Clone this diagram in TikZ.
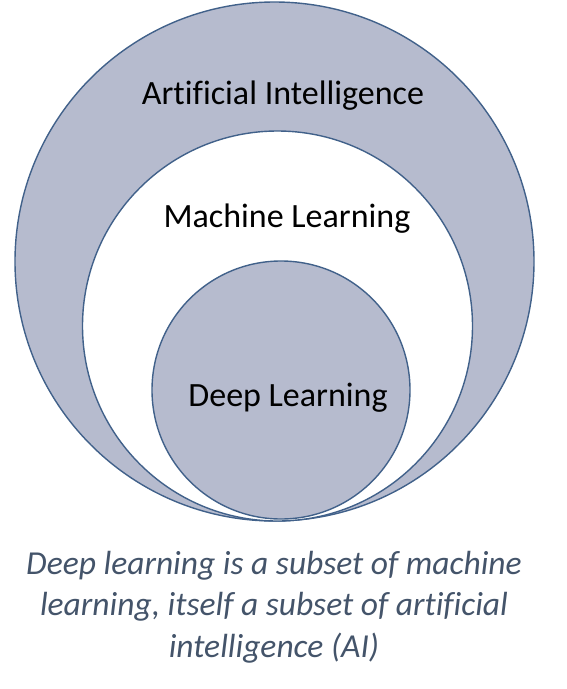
\documentclass[tikz,border=0pt]{standalone}
\usepackage{fontspec}
\setmainfont{Carlito}[Ligatures=CommonOff]
\usepackage{tikz}
\definecolor{setfill}{HTML}{B6BBCE}
\definecolor{setline}{HTML}{41618A}
\definecolor{captext}{HTML}{44546A}
\tikzset{
  setcircle/.style={draw=setline, line width=1.4pt},
  setlabel/.style={font=\fontsize{34}{40}\selectfont, text=black, inner sep=0pt}
}

\begin{document}
\begin{tikzpicture}[x=1pt,y=-1pt]

    \useasboundingbox (0,0) rectangle (566,689);

    % Draw the nested circles, all touching at the bottom
    \filldraw[setcircle, fill=setfill] (274.5,261.5) circle[radius=259.5pt];
    \filldraw[setcircle, fill=white] (277.5,326) circle[radius=195pt];
    \filldraw[setcircle, fill=setfill] (281,390) circle[radius=129pt];

    % Label the sets
    \node[setlabel] (ai) at (283,96) {Artificial Intelligence};
    \node[setlabel] (ml) at (287,219) {Machine Learning};
    \node[setlabel] (dl) at (288,398) {Deep Learning};

    % Caption below
    \node[font=\fontsize{33.5}{41.5}\selectfont\itshape, text=captext, align=center, inner sep=0pt]
      (caption) at (274,607) {Deep learning is a subset of machine\\
      learning, itself a subset of artificial\\ intelligence (AI)};

\end{tikzpicture}
\end{document}
